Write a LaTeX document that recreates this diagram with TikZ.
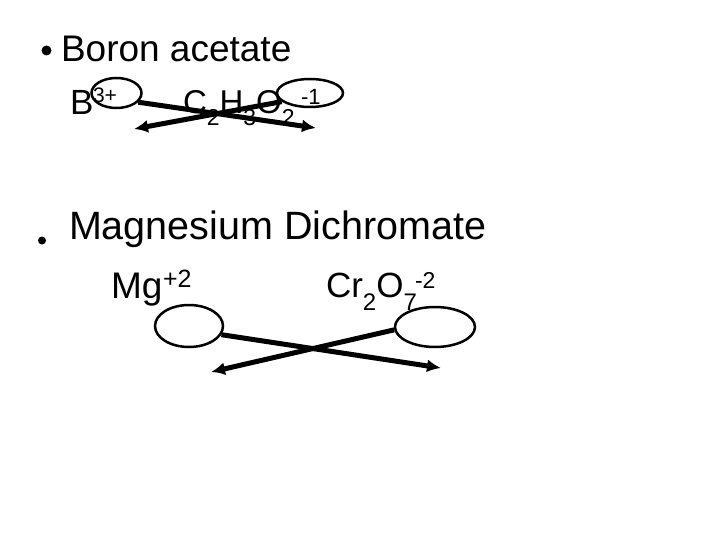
\documentclass[tikz,border=0pt]{standalone}
\usepackage{fontspec}
\setmainfont{Liberation Sans}
\usetikzlibrary{shapes.geometric,arrows.meta}
\newcommand\fs[1]{\fontsize{#1}{#1}\selectfont}
\tikzset{
  txt/.style={anchor=base west,inner sep=0pt,outer sep=0pt},
  ring/.style={draw=black,line width=2.5pt,ellipse,inner sep=0pt},
  cross/.style={line width=5pt,-{Latex[length=14pt,width=13pt]}},
}
\begin{document}
\begin{tikzpicture}[x=1pt,y=-1pt]
\useasboundingbox[fill=white] (0,0) rectangle (720,540);
% first bullet
\fill (46.5,50.5) circle (5);
\node[txt,font=\fs{37}] (t1) at (61,62) {Boron acetate};
\node[txt,font=\fs{35}] (b) at (70,115) {B};
\node[txt,font=\fs{21}] (b3) at (93,103) {3+};
\node[txt,font=\fs{33}] (ac) at (183,114) {C\raisebox{-12pt}{\fs{23}2}H\raisebox{-12pt}{\fs{23}3}O\raisebox{-12pt}{\fs{23}2}};
\node[txt,font=\fs{22}] (m1) at (301,105) {-1};
\node[ring,minimum width=50pt,minimum height=30pt] (e1) at (116.5,93) {};
\node[ring,minimum width=66pt,minimum height=28pt] (e2) at (310,93) {};
\coordinate (p1) at (316,128);
\coordinate (p2) at (134,129);
\draw[cross] (e1.-23) -- (p1);
\draw[cross] (e2.-163.5) -- (p2);
% second bullet
\fill (42,240.5) circle (4);
\node[txt,font=\fs{39.5}] (t2) at (69,240) {Magnesium Dichromate};
\node[txt,font=\fs{37}] (mg) at (111,298) {Mg};
\node[txt,font=\fs{25}] (mg2) at (163,287) {+2};
\node[txt,font=\fs{35}] (cr) at (326,297) {Cr\raisebox{-13pt}{\fs{24}2}O\raisebox{-13pt}{\fs{24}7}};
\node[txt,font=\fs{23}] (cr2) at (415,288) {-2};
\node[ring,minimum width=68pt,minimum height=42pt] (e3) at (189,326) {};
\node[ring,minimum width=80pt,minimum height=40pt] (e4) at (435,327) {};
\coordinate (p3) at (441,368);
\coordinate (p4) at (211,372);
\draw[cross] (e3.-15.4) -- (p3);
\draw[cross] (e4.184) -- (p4);
\end{tikzpicture}
\end{document}
